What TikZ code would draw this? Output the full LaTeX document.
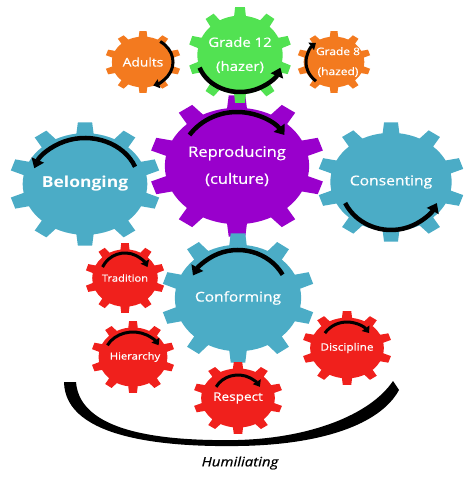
\documentclass[tikz,border=0pt]{standalone}
\usepackage{fontspec}
\setsansfont{Open Sans}
\newfontfamily\coglabelfont{Open Sans}[FakeBold=0.6]
\usepackage{xcolor}
\usepackage{tikz}
\usetikzlibrary{arrows.meta}
\definecolor{cogorange}{RGB}{243,122,31}
\definecolor{coggreen}{RGB}{82,226,82}
\definecolor{cogpurple}{RGB}{153,0,204}
\definecolor{cogblue}{RGB}{75,172,198}
\definecolor{cogred}{RGB}{240,32,28}
\tikzset{>=latex}
\tikzset{cog-label/.style={text=white, align=center, inner sep=0pt, xscale=1.15, transform shape}}
\tikzset{cog-arrow/.style={line width=4.5pt, -{Triangle[length=9pt, width=13pt]}}}
\tikzset{cog-arrow-small/.style={line width=3pt, -{Triangle[length=6pt, width=9pt]}}}

% #1 centre, #2 x radius, #3 y radius, #4 teeth, #5 colour, #6 first tooth angle
\newcommand{\gearwheel}[6]{%
  \begin{scope}[shift={#1}, xscale=#2/#3]
    \pgfmathsetmacro\cogstep{360/#4}
    \pgfmathsetmacro\cogbody{0.82*#3}
    \pgfmathsetmacro\cogA{0.22*\cogstep}
    \pgfmathsetmacro\cogB{0.15*\cogstep}
    \fill[#5] ({#6-\cogA}:\cogbody) \foreach \k in {1,...,#4}{
        -- ({#6+(\k-1)*\cogstep-\cogB}:#3) -- ({#6+(\k-1)*\cogstep+\cogB}:#3)
        -- ({#6+(\k-1)*\cogstep+\cogA}:\cogbody)
        arc[start angle={#6+(\k-1)*\cogstep+\cogA}, end angle={#6+\k*\cogstep-\cogA}, radius=\cogbody]
      } -- cycle;
  \end{scope}}

\begin{document}
\begin{tikzpicture}[x=1pt, y=-1pt]
  \useasboundingbox (0,0) rectangle (474,478);

  \coordinate (adults) at (143,62);
  \coordinate (grade12) at (240,55);
  \coordinate (grade8) at (334,62);
  \coordinate (repro) at (237,166);
  \coordinate (belong) at (85,184);
  \coordinate (consent) at (391,182);
  \coordinate (conform) at (238,298);
  \coordinate (tradition) at (125,278);
  \coordinate (hierarchy) at (133,357);
  \coordinate (respect) at (238,398);
  \coordinate (discipline) at (347,348);

  % gears
  \gearwheel{(adults)}{38}{31}{10}{cogorange}{270}
  \gearwheel{(grade8)}{37}{31}{10}{cogorange}{270}
  \gearwheel{(repro)}{88}{71}{10}{cogpurple}{270}
  \gearwheel{(grade12)}{52}{48}{10}{coggreen}{270}
  \gearwheel{(belong)}{76}{62}{10}{cogblue}{270}
  \gearwheel{(consent)}{74}{60}{10}{cogblue}{270}
  \gearwheel{(conform)}{77}{65}{10}{cogblue}{270}
  \gearwheel{(tradition)}{40}{35}{10}{cogred}{270}
  \gearwheel{(hierarchy)}{42}{36}{10}{cogred}{270}
  \gearwheel{(respect)}{45}{36}{10}{cogred}{270}
  \gearwheel{(discipline)}{45}{37}{10}{cogred}{270}

  % turning arrows
  \draw[cog-arrow-small] ([shift={(-55:30 and 25)}]adults) arc[start angle=-55, end angle=70, x radius=30, y radius=25];
  \draw[cog-arrow] ([shift={(160:43 and 37)}]grade12) arc[start angle=160, end angle=20, x radius=43, y radius=37];
  \draw[cog-arrow-small] ([shift={(130:28 and 25)}]grade8) arc[start angle=130, end angle=230, x radius=28, y radius=25];
  \draw[cog-arrow] ([shift={(215:58 and 54)}]repro) arc[start angle=215, end angle=325, x radius=58, y radius=54];
  \draw[cog-arrow] ([shift={(-22:54 and 46)}]belong) arc[start angle=-22, end angle=-160, x radius=54, y radius=46];
  \draw[cog-arrow] ([shift={(154:51 and 48)}]consent) arc[start angle=154, end angle=26, x radius=51, y radius=48];
  \draw[cog-arrow] ([shift={(-29:51 and 48)}]conform) arc[start angle=-29, end angle=-152, x radius=51, y radius=48];
  \draw[cog-arrow-small] ([shift={(206:25 and 25)}]tradition) arc[start angle=206, end angle=334, radius=25];
  \draw[cog-arrow-small] ([shift={(208:29 and 25)}]hierarchy) arc[start angle=208, end angle=332, x radius=29, y radius=25];
  \draw[cog-arrow-small] ([shift={(209:25 and 23)}]respect) arc[start angle=209, end angle=331, x radius=25, y radius=23];
  \draw[cog-arrow-small] ([shift={(215:27 and 26)}]discipline) arc[start angle=215, end angle=325, x radius=27, y radius=26];

  % big sweep under the red gears
  \fill[black] (64,382) .. controls (65,440) and (170,447) .. (238,446)
    .. controls (320,445) and (380,425) .. (399,390) -- (393,381)
    .. controls (370,415) and (310,438) .. (238,440)
    .. controls (175,441) and (80,436) .. (76,382) -- cycle;

  % labels
  \node[cog-label, font=\coglabelfont\fontsize{12}{14}\selectfont] (adults-text) at (adults) {Adults};
  \node[cog-label, font=\coglabelfont\fontsize{13}{24}\selectfont] (grade12-text) at (grade12) {Grade 12\\(hazer)};
  \node[cog-label, font=\coglabelfont\fontsize{10.4}{20}\selectfont] (grade8-text) at ([xshift=4]grade8) {Grade 8\\(hazed)};
  \node[cog-label, font=\coglabelfont\fontsize{14.4}{27}\selectfont] (repro-text) at (repro) {Reproducing\\(culture)};
  \node[cog-label, font=\sffamily\bfseries\fontsize{15.2}{18}\selectfont] (belong-text) at (belong) {Belonging};
  \node[cog-label, font=\coglabelfont\fontsize{13.6}{16}\selectfont] (consent-text) at (consent) {Consenting};
  \node[cog-label, font=\coglabelfont\fontsize{13.5}{16}\selectfont] (conform-text) at (conform) {Conforming};
  \node[cog-label, font=\coglabelfont\fontsize{9.7}{12}\selectfont] (tradition-text) at (tradition) {Tradition};
  \node[cog-label, font=\coglabelfont\fontsize{9.8}{12}\selectfont] (hierarchy-text) at ([xshift=2]hierarchy) {Hierarchy};
  \node[cog-label, font=\coglabelfont\fontsize{11.8}{14}\selectfont] (respect-text) at (respect) {Respect};
  \node[cog-label, font=\coglabelfont\fontsize{10.3}{12}\selectfont] (discipline-text) at (discipline) {Discipline};
  \node[cog-label, text=black, font=\coglabelfont\itshape\fontsize{13}{15}\selectfont] (humiliating) at (240,463) {Humiliating};
\end{tikzpicture}
\end{document}
